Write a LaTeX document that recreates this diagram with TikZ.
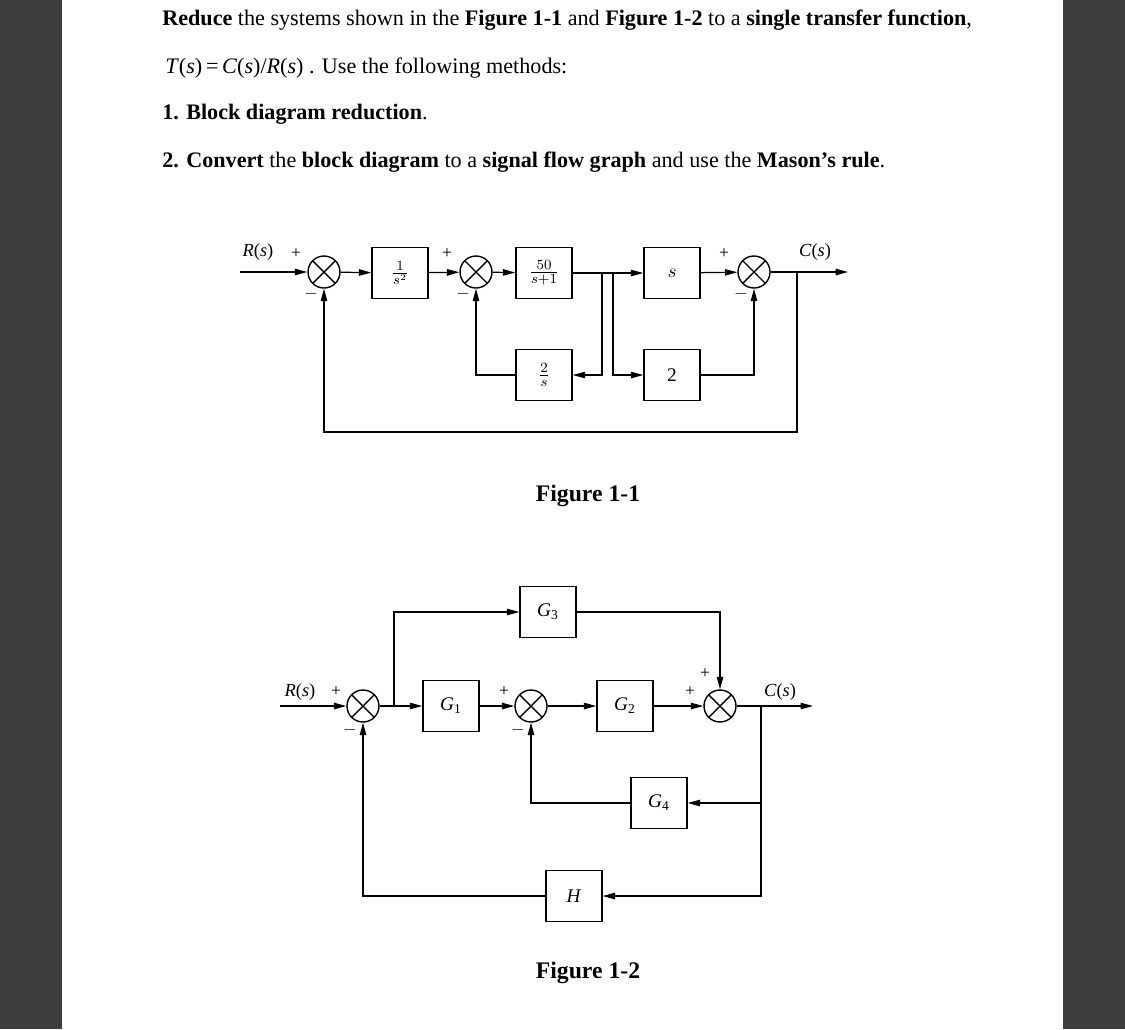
\documentclass[tikz,border=0pt]{standalone}
\usepackage{fontspec}
\setmainfont{Liberation Serif}
\usetikzlibrary{arrows.meta}
\tikzset{
  blk/.style={draw,line width=0.8pt,inner sep=0pt,minimum width=1.12cm,minimum height=1.02cm,font=\fontsize{11}{12}\selectfont},
  sm/.style={draw,line width=0.8pt,circle,inner sep=0pt,minimum size=0.64cm,
    path picture={\draw[line width=0.8pt] (path picture bounding box.center) ++(45:0.32cm) -- ++(225:0.64cm);
                  \draw[line width=0.8pt] (path picture bounding box.center) ++(135:0.32cm) -- ++(315:0.64cm);}},
  ln/.style={line width=0.7pt},
  ar/.style={line width=0.7pt,-{Triangle[length=0.25cm,width=0.13cm]}},
  lb/.style={inner sep=0pt,font=\fontsize{10.5}{12}\selectfont},
  sg/.style={inner sep=0pt,font=\fontsize{10}{12}\selectfont},
  txt/.style={inner sep=0pt,anchor=base west,font=\fontsize{12.6}{15}\selectfont},
}
\begin{document}
\begin{tikzpicture}[x=0.02cm,y=-0.02cm]
\fill[black!76] (0,0) rectangle (1125,1029);
\fill[white] (62,0) rectangle (1063,1029);
\useasboundingbox (0,0) rectangle (1125,1029);
% text
\node[txt] (t1) at (162,25) {\textbf{Reduce} the systems shown in the \textbf{Figure 1-1} and \textbf{Figure 1-2} to a \textbf{single transfer function},};
\node[txt] (t2) at (165,73) {\textit{T}(\textit{s})\,=\,\textit{C}(\textit{s})/\textit{R}(\textit{s}) . Use the following methods:};
\node[txt] (t3) at (162,119) {\textbf{1. Block diagram reduction}.};
\node[txt] (t4) at (162,167) {\textbf{2. Convert} the \textbf{block diagram} to a \textbf{signal flow graph} and use the \textbf{Mason's rule}.};
\node[inner sep=0pt,font=\bfseries\fontsize{13.5}{15}\selectfont] (f1) at (588,496) {Figure 1-1};
\node[inner sep=0pt,font=\bfseries\fontsize{13.5}{15}\selectfont] (f2) at (588,973) {Figure 1-2};

% ---------- Figure 1-1 ----------
\coordinate (in1) at (240,272);
\node[sm] (a1) at (324,272) {};
\node[blk] (b1) at (400,273) {$\frac{1}{s^2}$};
\node[sm] (a2) at (476,272) {};
\node[blk] (b2) at (544,273) {$\frac{50}{s+1}$};
\node[blk] (b3) at (672,273) {$s$};
\node[sm] (a3) at (754,272) {};
\node[blk] (b4) at (544,375) {$\frac{2}{s}$};
\node[blk] (b5) at (672,375) {2};
\coordinate (out1) at (848,272);
\coordinate (p1) at (602,272);
\coordinate (p2) at (613,272);
\coordinate (tp1) at (797,272);
\node[lb] (lR1) at (258,252) {\textit{R}(\textit{s})};
\node[lb] (lC1) at (815,252) {\textit{C}(\textit{s})};
\node[sg] at (296,254) {+};
\node[sg] at (311,294) {$-$};
\node[sg] at (447,254) {+};
\node[sg] at (463,294) {$-$};
\node[sg] at (724,254) {+};
\node[sg] at (741,294) {$-$};
\draw[ar] (in1) -- (a1);
\draw[ar] (a1) -- (b1);
\draw[ar] (b1) -- (a2);
\draw[ar] (a2) -- (b2);
\draw[ar] (b2) -- (b3);
\draw[ar] (b3) -- (a3);
\draw[ar] (a3) -- (out1);
\draw[ar] (p1) |- (b4);
\draw[ar] (b4) -| (a2);
\draw[ar] (p2) |- (b5);
\draw[ar] (b5) -| (a3);
\draw[ar] (tp1) -- (797,432) -| (a1);

% ---------- Figure 1-2 ----------
\coordinate (in2) at (280,706);
\node[sm] (c1) at (363,706) {};
\node[blk] (g1) at (451,706) {\textit{G}\textsubscript{1}};
\node[sm] (c2) at (531,706) {};
\node[blk] (g2) at (625,706) {\textit{G}\textsubscript{2}};
\node[sm] (c3) at (720,706) {};
\node[blk] (g3) at (548,612) {\textit{G}\textsubscript{3}};
\node[blk] (g4) at (659,803) {\textit{G}\textsubscript{4}};
\node[blk] (h) at (574,896) {\textit{H}};
\coordinate (out2) at (813,706);
\coordinate (sp) at (394,706);
\coordinate (tp2) at (761,706);
\node[lb] (lR2) at (300,692) {\textit{R}(\textit{s})};
\node[lb] (lC2) at (780,692) {\textit{C}(\textit{s})};
\node[sg] at (336,692) {+};
\node[sg] at (350,730) {$-$};
\node[sg] at (504,692) {+};
\node[sg] at (518,730) {$-$};
\node[sg] at (690,692) {+};
\node[sg] at (705,674) {+};
\draw[ar] (in2) -- (c1);
\draw[ar] (c1) -- (g1);
\draw[ar] (g1) -- (c2);
\draw[ar] (c2) -- (g2);
\draw[ar] (g2) -- (c3);
\draw[ar] (c3) -- (out2);
\draw[ar] (sp) |- (g3);
\draw[ar] (g3) -| (c3);
\draw[ar] (tp2) |- (g4);
\draw[ar] (g4) -| (c2);
\draw[ar] (tp2) |- (h);
\draw[ar] (h) -| (c1);
\end{tikzpicture}
\end{document}
